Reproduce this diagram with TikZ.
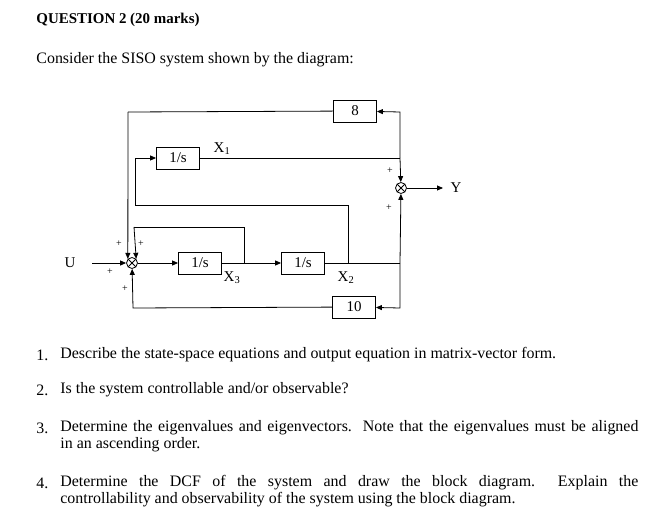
\documentclass[tikz,border=0pt]{standalone}
\usepackage{fontspec}
\setmainfont{Liberation Serif}
\usetikzlibrary{arrows.meta}
\begin{document}
\begin{tikzpicture}[x=1bp,y=-1bp,line width=0.8bp,
  blk/.style={draw,minimum width=43bp,minimum height=22bp,inner sep=0pt,font=\fontsize{15}{16}\selectfont},
  sumj/.style={draw,circle,minimum size=11bp,inner sep=0pt,path picture={\draw (path picture bounding box.north west)--(path picture bounding box.south east) (path picture bounding box.north east)--(path picture bounding box.south west);}},
  ar/.style={-{Triangle[length=6bp,width=5bp]}},
  pl/.style={font=\fontsize{10}{11}\selectfont,inner sep=0pt},
  txt/.style={anchor=west,inner sep=0pt,font=\fontsize{16}{17}\selectfont},
  ptxt/.style={anchor=north west,inner sep=0pt,font=\fontsize{16}{17}\selectfont,text width=578bp,align=justify},
  lab/.style={inner sep=0pt,font=\fontsize{15}{16}\selectfont}]
\useasboundingbox (0,0) rectangle (661,529);
\node[txt,font=\bfseries\fontsize{15}{17}\selectfont] (q) at (36,20) {QUESTION 2 (20 marks)};
\node[txt] (c) at (36,60) {Consider the SISO system shown by the diagram:};
% diagram
\node[sumj] (s1) at (132,263) {};
\node[sumj] (s2) at (401,188) {};
\node[blk] (b8) at (355,111) {8};
\node[blk] (b1) at (178,158) {1/s};
\node[blk] (b3) at (200,263) {1/s};
\node[blk] (b2) at (303,263) {1/s};
\node[blk] (b10) at (354,307) {10};
\node[lab] (u) at (70,263) {U};
\node[lab] (y) at (456,188) {Y};
\coordinate (uin) at (92,263);
\draw[ar] (uin) -- (s1);
\draw[ar] (s1) -- (b3);
\coordinate (x3p) at (244,263);
\draw[ar] (b3) -- (b2);
\draw (x3p) -- (244,227) -- (134,227);
\draw[ar] (134,227) -- (s1.north east);
\coordinate (rt) at (400,263);
\coordinate (rtop) at (400,112);
\coordinate (x1r) at (400,158);
\draw (b2) -- (rt);
\draw[ar] (rt) -- (s2);
\draw[ar] (rt) -- (400,308) -- (b10);
\draw[ar] (b10) -- (133,308) -- (s1);
\draw (b1) -- (x1r);
\draw[ar] (x1r) -- (s2);
\draw[ar] (x1r) -- (rtop) -- (b8);
\draw (b8) -- (128,112);
\draw[ar] (128,112) -- (s1.north west);
\draw (348,263) -- (348,205) -- (135,205) -- (135,158);
\draw[ar] (135,158) -- (b1);
\draw[ar] (s2) -- (443,188);
\node[lab] (lx1) at (222,149) {X\textsubscript{1}};
\node[lab] (lx3) at (232,278) {X\textsubscript{3}};
\node[lab] (lx2) at (346,278) {X\textsubscript{2}};
\node[pl] at (119,244) {+};
\node[pl] at (141,244) {+};
\node[pl] at (110,272) {+};
\node[pl] at (125,289) {+};
\node[pl] at (390,171) {+};
\node[pl] at (389,208) {+};
% questions
\node[txt] at (36,355) {1.};
\node[txt] at (60,355) {Describe the state-space equations and output equation in matrix-vector form.};
\node[txt] at (36,390) {2.};
\node[txt] at (60,390) {Is the system controllable and/or observable?};
\node[txt] at (36,428) {3.};
\node[ptxt] at (60,420) {Determine the eigenvalues and eigenvectors.\ \ Note that the eigenvalues must be aligned\linebreak in an ascending order.\par};
\node[txt] at (36,483) {4.};
\node[ptxt] at (60,475) {Determine the DCF of the system and draw the block diagram.\ \ Explain the\linebreak controllability and observability of the system using the block diagram.\par};
\end{tikzpicture}
\end{document}
